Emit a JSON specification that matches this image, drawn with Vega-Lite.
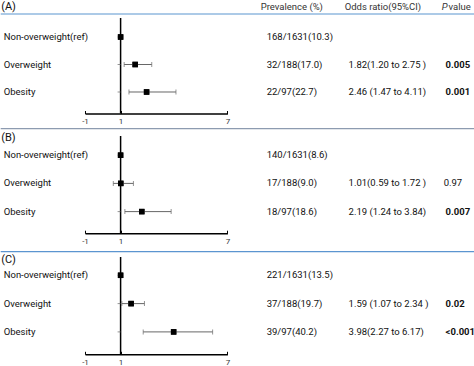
{
  "$schema": "https://vega.github.io/schema/vega-lite/v6.json",
  "padding": 0,
  "background": "white",
  "spacing": 1,
  "config": {
    "view": {"stroke": null},
    "text": {"font": "Roboto", "fontSize": 9.5, "color": "#111"},
    "axis": {"labelFont": "Roboto"},
    "axisX": {"tickSize": -3, "tickWidth": 1, "tickColor": "#000", "domainColor": "#000", "domainWidth": 1.5, "grid": false, "labelFontSize": 8, "labelColor": "#333", "labelPadding": 7, "labelOverlap": false, "labelFlush": false, "title": null},
    "axisY": {"disable": true}
  },
  "datasets": {
    "rows": [
      {"panel": "A", "group": "Non-overweight(ref)", "prevalence": "168/1631(10.3)", "or": 1, "ci": "", "p": ""},
      {"panel": "A", "group": "Overweight", "prevalence": "32/188(17.0)", "or": 1.82, "lo": 1.20, "hi": 2.75, "ci": "1.82(1.20 to 2.75 )", "p": "0.005"},
      {"panel": "A", "group": "Obesity", "prevalence": "22/97(22.7)", "or": 2.46, "lo": 1.47, "hi": 4.11, "ci": "2.46 (1.47 to 4.11)", "p": "0.001"},
      {"panel": "B", "group": "Non-overweight(ref)", "prevalence": "140/1631(8.6)", "or": 1, "ci": "", "p": ""},
      {"panel": "B", "group": "Overweight", "prevalence": "17/188(9.0)", "or": 1.01, "lo": 0.59, "hi": 1.72, "ci": "1.01(0.59 to 1.72 )", "p": "0.97"},
      {"panel": "B", "group": "Obesity", "prevalence": "18/97(18.6)", "or": 2.19, "lo": 1.24, "hi": 3.84, "ci": "2.19 (1.24 to 3.84)", "p": "0.007"},
      {"panel": "C", "group": "Non-overweight(ref)", "prevalence": "221/1631(13.5)", "or": 1, "ci": "", "p": ""},
      {"panel": "C", "group": "Overweight", "prevalence": "37/188(19.7)", "or": 1.59, "lo": 1.07, "hi": 2.34, "ci": "1.59 (1.07 to 2.34 )", "p": "0.02"},
      {"panel": "C", "group": "Obesity", "prevalence": "39/97(40.2)", "or": 3.98, "lo": 2.27, "hi": 6.17, "ci": "3.98(2.27 to 6.17)", "p": "<0.001"}
    ]
  },
  "vconcat": [
    {
      "width": 142.4,
      "height": 112.5,
      "layer": [
        {
          "data": {"name": "rows"},
          "transform": [{"filter": "datum.panel == 'A'"}],
          "mark": {"type": "square", "color": "#000", "filled": true, "opacity": 1, "size": 30},
          "encoding": {
            "x": {"field": "or", "type": "quantitative",
              "scale": {"domain": [-1, 7], "nice": false, "zero": false},
              "axis": {"values": [-1, 1, 7], "format": "d", "labelExpr": "replace(datum.label, '\u2212', '-')", "title": null}},
            "y": {"field": "group", "type": "nominal",
              "scale": {"type": "point", "domain": ["hdr", "Non-overweight(ref)", "Overweight", "Obesity"], "padding": 0.5455, "align": 0.2833}}
          }
        },
        {
          "data": {"values": [{}]},
          "mark": {"type": "rule", "color": "#5b95d0", "strokeWidth": 1.2, "yOffset": 4.5},
          "encoding": {
            "x": {"datum": -5.736, "type": "quantitative"},
            "x2": {"datum": 20.893},
            "y": {"datum": "hdr", "type": "nominal"}
          }
        },
        {
          "data": {"values": [{}]},
          "mark": {"type": "rule", "color": "#000", "strokeWidth": 1.5, "yOffset": 8.5, "y2Offset": 21.5},
          "encoding": {
            "x": {"datum": 1, "type": "quantitative"},
            "y": {"datum": "hdr", "type": "nominal"},
            "y2": {"datum": "Obesity"}
          }
        },
        {
          "data": {"name": "rows"},
          "transform": [{"filter": "datum.panel == 'A'"}],
          "mark": {"type": "tick", "orient": "horizontal", "color": "#666", "size": 3, "thickness": 1, "xOffset": -1.5},
          "encoding": {
            "x": {"datum": 1, "type": "quantitative"},
            "y": {"field": "group", "type": "nominal"}
          }
        },
        {
          "data": {"name": "rows"},
          "transform": [{"filter": "datum.panel == 'A' && isValid(datum.lo)"}],
          "mark": {"type": "rule", "color": "#666", "strokeWidth": 1},
          "encoding": {
            "x": {"field": "lo", "type": "quantitative"},
            "x2": {"field": "hi"},
            "y": {"field": "group", "type": "nominal"}
          }
        },
        {
          "data": {"name": "rows"},
          "transform": [{"filter": "datum.panel == 'A' && isValid(datum.lo)"}],
          "mark": {"type": "tick", "color": "#666", "size": 5, "thickness": 1},
          "encoding": {
            "x": {"field": "lo", "type": "quantitative"},
            "y": {"field": "group", "type": "nominal"}
          }
        },
        {
          "data": {"name": "rows"},
          "transform": [{"filter": "datum.panel == 'A' && isValid(datum.hi)"}],
          "mark": {"type": "tick", "color": "#666", "size": 5, "thickness": 1},
          "encoding": {
            "x": {"field": "hi", "type": "quantitative"},
            "y": {"field": "group", "type": "nominal"}
          }
        },
        {
          "data": {"name": "rows"},
          "transform": [{"filter": "datum.panel == 'A'"}],
          "mark": {"type": "square", "color": "#000", "filled": true, "opacity": 1, "size": 30},
          "encoding": {
            "x": {"field": "or", "type": "quantitative"},
            "y": {"field": "group", "type": "nominal"}
          }
        },
        {
          "data": {"name": "rows"},
          "transform": [{"filter": "datum.panel == 'A'"}],
          "mark": {"type": "text", "align": "left"},
          "encoding": {
            "x": {"datum": -5.567, "type": "quantitative"},
            "y": {"field": "group", "type": "nominal"},
            "text": {"field": "group"}
          }
        },
        {
          "data": {"name": "rows"},
          "transform": [{"filter": "datum.panel == 'A'"}],
          "mark": {"type": "text", "align": "left"},
          "encoding": {
            "x": {"datum": 9.208, "type": "quantitative"},
            "y": {"field": "group", "type": "nominal"},
            "text": {"field": "prevalence"}
          }
        },
        {
          "data": {"name": "rows"},
          "transform": [{"filter": "datum.panel == 'A'"}],
          "mark": {"type": "text", "align": "left"},
          "encoding": {
            "x": {"datum": 13.81, "type": "quantitative"},
            "y": {"field": "group", "type": "nominal"},
            "text": {"field": "ci"}
          }
        },
        {
          "data": {"name": "rows"},
          "transform": [{"filter": "datum.panel == 'A' && datum.p != '' && toNumber(replace(datum.p, '<', '')) < 0.05"}],
          "mark": {"type": "text", "align": "left", "fontWeight": "bold"},
          "encoding": {
            "x": {"datum": 19.26, "type": "quantitative"},
            "y": {"field": "group", "type": "nominal"},
            "text": {"field": "p"}
          }
        },
        {
          "data": {"values": [{}]},
          "mark": {"type": "text", "align": "left", "fontSize": 11, "dy": -2.5, "text": "(A)"},
          "encoding": {
            "x": {"datum": -5.71, "type": "quantitative"},
            "y": {"datum": "hdr", "type": "nominal"}
          }
        },
        {
          "data": {"values": [{}]},
          "mark": {"type": "text", "align": "left", "dy": -2.5, "color": "#333", "text": "Prevalence (%)"},
          "encoding": {
            "x": {"datum": 8.871, "type": "quantitative"},
            "y": {"datum": "hdr", "type": "nominal"}
          }
        },
        {
          "data": {"values": [{}]},
          "mark": {"type": "text", "align": "left", "dy": -2.5, "color": "#333", "text": "Odds ratio(95%CI)"},
          "encoding": {
            "x": {"datum": 13.59, "type": "quantitative"},
            "y": {"datum": "hdr", "type": "nominal"}
          }
        },
        {
          "data": {"values": [{}]},
          "mark": {"type": "text", "align": "left", "dy": -2.5, "color": "#333", "fontStyle": "italic", "text": "P"},
          "encoding": {
            "x": {"datum": 19.04, "type": "quantitative"},
            "y": {"datum": "hdr", "type": "nominal"}
          }
        },
        {
          "data": {"values": [{}]},
          "mark": {"type": "text", "align": "left", "dy": -2.5, "color": "#333", "text": "value"},
          "encoding": {
            "x": {"datum": 19.42, "type": "quantitative"},
            "y": {"datum": "hdr", "type": "nominal"}
          }
        }
      ]
    },
    {
      "width": 142.4,
      "height": 106.2,
      "layer": [
        {
          "data": {"name": "rows"},
          "transform": [{"filter": "datum.panel == 'B'"}],
          "mark": {"type": "square", "color": "#000", "filled": true, "opacity": 1, "size": 30},
          "encoding": {
            "x": {"field": "or", "type": "quantitative",
              "scale": {"domain": [-1, 7], "nice": false, "zero": false},
              "axis": {"values": [-1, 1, 7], "format": "d", "labelExpr": "replace(datum.label, '\u2212', '-')", "title": null}},
            "y": {"field": "group", "type": "nominal",
              "scale": {"type": "point", "domain": ["hdr", "Non-overweight(ref)", "Overweight", "Obesity"], "padding": 0.383, "align": 0}}
          }
        },
        {
          "data": {"values": [{}]},
          "mark": {"type": "rule", "color": "#8d9bb0", "strokeWidth": 1.2, "yOffset": 1.6},
          "encoding": {
            "x": {"datum": -5.736, "type": "quantitative"},
            "x2": {"datum": 20.893},
            "y": {"datum": "hdr", "type": "nominal"}
          }
        },
        {
          "data": {"values": [{}]},
          "mark": {"type": "rule", "color": "#000", "strokeWidth": 1.5, "yOffset": 9, "y2Offset": 21.6},
          "encoding": {
            "x": {"datum": 1, "type": "quantitative"},
            "y": {"datum": "hdr", "type": "nominal"},
            "y2": {"datum": "Obesity"}
          }
        },
        {
          "data": {"name": "rows"},
          "transform": [{"filter": "datum.panel == 'B'"}],
          "mark": {"type": "tick", "orient": "horizontal", "color": "#666", "size": 3, "thickness": 1, "xOffset": -1.5},
          "encoding": {
            "x": {"datum": 1, "type": "quantitative"},
            "y": {"field": "group", "type": "nominal"}
          }
        },
        {
          "data": {"name": "rows"},
          "transform": [{"filter": "datum.panel == 'B' && isValid(datum.lo)"}],
          "mark": {"type": "rule", "color": "#666", "strokeWidth": 1},
          "encoding": {
            "x": {"field": "lo", "type": "quantitative"},
            "x2": {"field": "hi"},
            "y": {"field": "group", "type": "nominal"}
          }
        },
        {
          "data": {"name": "rows"},
          "transform": [{"filter": "datum.panel == 'B' && isValid(datum.lo)"}],
          "mark": {"type": "tick", "color": "#666", "size": 5, "thickness": 1},
          "encoding": {
            "x": {"field": "lo", "type": "quantitative"},
            "y": {"field": "group", "type": "nominal"}
          }
        },
        {
          "data": {"name": "rows"},
          "transform": [{"filter": "datum.panel == 'B' && isValid(datum.hi)"}],
          "mark": {"type": "tick", "color": "#666", "size": 5, "thickness": 1},
          "encoding": {
            "x": {"field": "hi", "type": "quantitative"},
            "y": {"field": "group", "type": "nominal"}
          }
        },
        {
          "data": {"name": "rows"},
          "transform": [{"filter": "datum.panel == 'B'"}],
          "mark": {"type": "square", "color": "#000", "filled": true, "opacity": 1, "size": 30},
          "encoding": {
            "x": {"field": "or", "type": "quantitative"},
            "y": {"field": "group", "type": "nominal"}
          }
        },
        {
          "data": {"name": "rows"},
          "transform": [{"filter": "datum.panel == 'B'"}],
          "mark": {"type": "text", "align": "left"},
          "encoding": {
            "x": {"datum": -5.567, "type": "quantitative"},
            "y": {"field": "group", "type": "nominal"},
            "text": {"field": "group"}
          }
        },
        {
          "data": {"name": "rows"},
          "transform": [{"filter": "datum.panel == 'B'"}],
          "mark": {"type": "text", "align": "left"},
          "encoding": {
            "x": {"datum": 9.208, "type": "quantitative"},
            "y": {"field": "group", "type": "nominal"},
            "text": {"field": "prevalence"}
          }
        },
        {
          "data": {"name": "rows"},
          "transform": [{"filter": "datum.panel == 'B'"}],
          "mark": {"type": "text", "align": "left"},
          "encoding": {
            "x": {"datum": 13.81, "type": "quantitative"},
            "y": {"field": "group", "type": "nominal"},
            "text": {"field": "ci"}
          }
        },
        {
          "data": {"name": "rows"},
          "transform": [{"filter": "datum.panel == 'B' && datum.p != '' && toNumber(replace(datum.p, '<', '')) < 0.05"}],
          "mark": {"type": "text", "align": "left", "fontWeight": "bold"},
          "encoding": {
            "x": {"datum": 19.26, "type": "quantitative"},
            "y": {"field": "group", "type": "nominal"},
            "text": {"field": "p"}
          }
        },
        {
          "data": {"name": "rows"},
          "transform": [{"filter": "datum.panel == 'B' && datum.p != '' && toNumber(replace(datum.p, '<', '')) >= 0.05"}],
          "mark": {"type": "text", "align": "left"},
          "encoding": {
            "x": {"datum": 19.15, "type": "quantitative"},
            "y": {"field": "group", "type": "nominal"},
            "text": {"field": "p"}
          }
        },
        {
          "data": {"values": [{}]},
          "mark": {"type": "text", "align": "left", "fontSize": 11, "dy": 10.9, "text": "(B)"},
          "encoding": {
            "x": {"datum": -5.71, "type": "quantitative"},
            "y": {"datum": "hdr", "type": "nominal"}
          }
        }
      ]
    },
    {
      "width": 142.4,
      "height": 107.3,
      "layer": [
        {
          "data": {"name": "rows"},
          "transform": [{"filter": "datum.panel == 'C'"}],
          "mark": {"type": "square", "color": "#000", "filled": true, "opacity": 1, "size": 30},
          "encoding": {
            "x": {"field": "or", "type": "quantitative",
              "scale": {"domain": [-1, 7], "nice": false, "zero": false},
              "axis": {"values": [-1, 1, 7], "format": "d", "labelExpr": "replace(datum.label, '\u2212', '-')", "title": null}},
            "y": {"field": "group", "type": "nominal",
              "scale": {"type": "point", "domain": ["hdr", "Non-overweight(ref)", "Overweight", "Obesity"], "padding": 0.3958, "align": 0}}
          }
        },
        {
          "data": {"values": [{}]},
          "mark": {"type": "rule", "color": "#5b95d0", "strokeWidth": 1.2, "yOffset": 4.7},
          "encoding": {
            "x": {"datum": -5.736, "type": "quantitative"},
            "x2": {"datum": 20.893},
            "y": {"datum": "hdr", "type": "nominal"}
          }
        },
        {
          "data": {"values": [{}]},
          "mark": {"type": "rule", "color": "#000", "strokeWidth": 1.5, "yOffset": 10, "y2Offset": 22.4},
          "encoding": {
            "x": {"datum": 1, "type": "quantitative"},
            "y": {"datum": "hdr", "type": "nominal"},
            "y2": {"datum": "Obesity"}
          }
        },
        {
          "data": {"name": "rows"},
          "transform": [{"filter": "datum.panel == 'C'"}],
          "mark": {"type": "tick", "orient": "horizontal", "color": "#666", "size": 3, "thickness": 1, "xOffset": -1.5},
          "encoding": {
            "x": {"datum": 1, "type": "quantitative"},
            "y": {"field": "group", "type": "nominal"}
          }
        },
        {
          "data": {"name": "rows"},
          "transform": [{"filter": "datum.panel == 'C' && isValid(datum.lo)"}],
          "mark": {"type": "rule", "color": "#666", "strokeWidth": 1},
          "encoding": {
            "x": {"field": "lo", "type": "quantitative"},
            "x2": {"field": "hi"},
            "y": {"field": "group", "type": "nominal"}
          }
        },
        {
          "data": {"name": "rows"},
          "transform": [{"filter": "datum.panel == 'C' && isValid(datum.lo)"}],
          "mark": {"type": "tick", "color": "#666", "size": 5, "thickness": 1},
          "encoding": {
            "x": {"field": "lo", "type": "quantitative"},
            "y": {"field": "group", "type": "nominal"}
          }
        },
        {
          "data": {"name": "rows"},
          "transform": [{"filter": "datum.panel == 'C' && isValid(datum.hi)"}],
          "mark": {"type": "tick", "color": "#666", "size": 5, "thickness": 1},
          "encoding": {
            "x": {"field": "hi", "type": "quantitative"},
            "y": {"field": "group", "type": "nominal"}
          }
        },
        {
          "data": {"name": "rows"},
          "transform": [{"filter": "datum.panel == 'C'"}],
          "mark": {"type": "square", "color": "#000", "filled": true, "opacity": 1, "size": 30},
          "encoding": {
            "x": {"field": "or", "type": "quantitative"},
            "y": {"field": "group", "type": "nominal"}
          }
        },
        {
          "data": {"name": "rows"},
          "transform": [{"filter": "datum.panel == 'C'"}],
          "mark": {"type": "text", "align": "left"},
          "encoding": {
            "x": {"datum": -5.567, "type": "quantitative"},
            "y": {"field": "group", "type": "nominal"},
            "text": {"field": "group"}
          }
        },
        {
          "data": {"name": "rows"},
          "transform": [{"filter": "datum.panel == 'C'"}],
          "mark": {"type": "text", "align": "left"},
          "encoding": {
            "x": {"datum": 9.208, "type": "quantitative"},
            "y": {"field": "group", "type": "nominal"},
            "text": {"field": "prevalence"}
          }
        },
        {
          "data": {"name": "rows"},
          "transform": [{"filter": "datum.panel == 'C'"}],
          "mark": {"type": "text", "align": "left"},
          "encoding": {
            "x": {"datum": 13.81, "type": "quantitative"},
            "y": {"field": "group", "type": "nominal"},
            "text": {"field": "ci"}
          }
        },
        {
          "data": {"name": "rows"},
          "transform": [{"filter": "datum.panel == 'C' && datum.p != '' && toNumber(replace(datum.p, '<', '')) < 0.05"}],
          "mark": {"type": "text", "align": "left", "fontWeight": "bold"},
          "encoding": {
            "x": {"datum": 19.26, "type": "quantitative"},
            "y": {"field": "group", "type": "nominal"},
            "text": {"field": "p"}
          }
        },
        {
          "data": {"values": [{}]},
          "mark": {"type": "text", "align": "left", "fontSize": 11, "dy": 12.7, "text": "(C)"},
          "encoding": {
            "x": {"datum": -5.71, "type": "quantitative"},
            "y": {"datum": "hdr", "type": "nominal"}
          }
        }
      ]
    }
  ]
}
